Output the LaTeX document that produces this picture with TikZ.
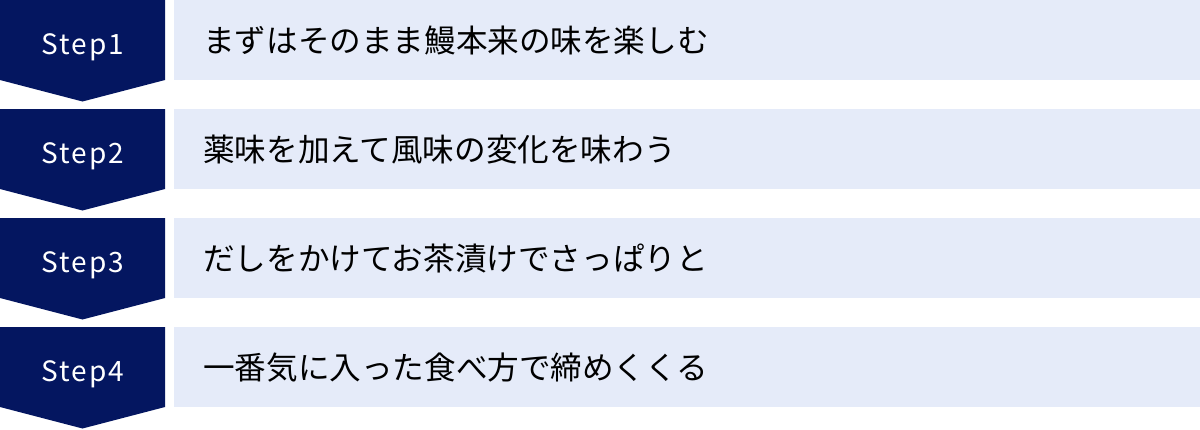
\documentclass[tikz,border=0pt]{standalone}
\usepackage{fontspec}
\setmainfont{Noto Sans CJK JP}
\newfontfamily\stepfont[LetterSpace=7]{Noto Sans CJK JP}
\usepackage{xcolor}
\usepackage{tikz}
\usetikzlibrary{positioning}
\definecolor{navy}{RGB}{4,22,96}
\definecolor{paleblue}{RGB}{229,235,249}

\tikzset{
  steplabel/.style={text=white,inner sep=0pt,anchor=base,font=\stepfont\fontsize{28}{28}\selectfont},
  rowtext/.style={text=black,inner sep=0pt,anchor=base west,font=\fontsize{31.6}{31.6}\selectfont},
}

\begin{document}
\begin{tikzpicture}[x=1pt,y=-1pt]
	\useasboundingbox (0,0) rectangle (1200,429);

	\foreach \i/\txt in {0/まずはそのまま鰻本来の味を楽しむ,1/薬味を加えて風味の変化を味わう,2/だしをかけてお茶漬けでさっぱりと,3/一番気に入った食べ方で締めくくる}{
		\pgfmathsetmacro{\top}{109*\i}
		\pgfmathtruncatemacro{\n}{\i+1}
		% step arrow
		\fill[navy] (0,\top) -- (165,\top) -- (165,\top+80) -- (82.5,\top+101.5) -- (0,\top+80) -- cycle;
		\node [steplabel] (step\n) at (83,\top+54) {Step\n};
		% text band
		\fill[paleblue] (174,\top) rectangle (1200,\top+80);
		\node [rowtext] (text\n) at (203,\top+52) {\txt};
	}

\end{tikzpicture}
\end{document}
